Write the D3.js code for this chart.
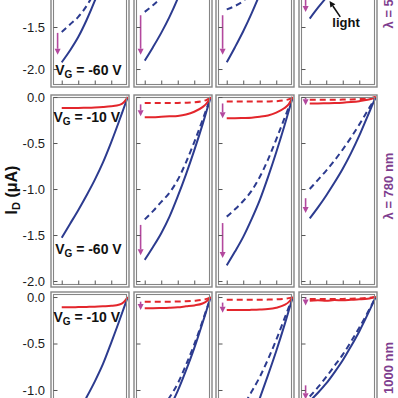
<!DOCTYPE html>
<html>
<head>
<meta charset="utf-8">
<script src="https://cdn.jsdelivr.net/npm/d3@7"></script>
<style>
  html, body { margin: 0; padding: 0; background: #fff; }
  svg { display: block; font-family: Arial, "Liberation Sans", sans-serif; }
</style>
</head>
<body>
<div id="chart"></div>
<script>

// drain voltage (V) points shared by every curve
let vd = [-8, -7, -6, -5, -4, -3, -2, -1, -0.5, 0];

let wavelengths = ['λ = 530 nm', 'λ = 780 nm', 'λ = 1000 nm'];
let yTicks = [0, -0.5, -1.0, -1.5, -2.0];
let xTicks = [-8, -6, -4, -2];

// I_D (uA) at VG = -60 V, one array per column (solid = light, dashed = dark)
let light60_530 = [
  [-1.92, -1.78, -1.62, -1.42, -1.19, -0.93, -0.64, -0.33, -0.165, 0],
  [-1.90, -1.74, -1.57, -1.38, -1.16, -0.90, -0.62, -0.32, -0.16, 0],
  [-1.92, -1.74, -1.55, -1.34, -1.11, -0.86, -0.59, -0.30, -0.15, 0],
  [-1.40, -1.27, -1.15, -1.02, -0.87, -0.69, -0.48, -0.25, -0.125, 0]
];
let dark60_530 = [
  [-1.56, -1.47, -1.38, -1.25, -1.08, -0.86, -0.59, -0.30, -0.15, 0],
  [-1.32, -1.24, -1.15, -1.04, -0.90, -0.71, -0.49, -0.25, -0.125, 0],
  [-1.29, -1.25, -1.19, -1.08, -0.93, -0.73, -0.50, -0.26, -0.13, 0],
  [-1.12, -1.02, -0.91, -0.79, -0.66, -0.52, -0.36, -0.18, -0.09, 0]
];

let light60_780 = [
  [-1.53, -1.38, -1.23, -1.07, -0.90, -0.71, -0.49, -0.25, -0.125, 0],
  [-1.77, -1.63, -1.48, -1.30, -1.08, -0.84, -0.58, -0.30, -0.15, 0],
  [-1.83, -1.68, -1.52, -1.33, -1.12, -0.87, -0.60, -0.31, -0.155, 0],
  [-1.32, -1.20, -1.07, -0.93, -0.78, -0.61, -0.42, -0.21, -0.105, 0]
];
let dark60_780 = [
  null,
  [-1.33, -1.24, -1.14, -1.04, -0.90, -0.71, -0.49, -0.25, -0.125, 0],
  [-1.30, -1.22, -1.13, -1.02, -0.87, -0.68, -0.46, -0.23, -0.115, 0],
  [-1.00, -0.90, -0.80, -0.69, -0.57, -0.44, -0.30, -0.15, -0.075, 0]
];

let light60_1000 = [
  [-1.55, -1.39, -1.24, -1.08, -0.91, -0.72, -0.49, -0.25, -0.125, 0],
  [-1.62, -1.48, -1.34, -1.19, -1.01, -0.79, -0.55, -0.28, -0.14, 0],
  [-1.85, -1.70, -1.53, -1.33, -1.09, -0.84, -0.58, -0.30, -0.15, 0],
  [-1.12, -1.03, -0.93, -0.81, -0.68, -0.53, -0.37, -0.19, -0.095, 0]
];
let dark60_1000 = [
  null,
  [-1.45, -1.33, -1.21, -1.08, -0.93, -0.73, -0.51, -0.26, -0.13, 0],
  [-1.38, -1.28, -1.17, -1.02, -0.86, -0.67, -0.46, -0.23, -0.115, 0],
  [-1.07, -0.97, -0.86, -0.74, -0.62, -0.48, -0.33, -0.17, -0.085, 0]
];

// I_D (uA) at VG = -10 V
let light10_780 = [
  [-0.12, -0.12, -0.118, -0.116, -0.113, -0.108, -0.10, -0.085, -0.06, 0],
  [-0.22, -0.22, -0.215, -0.21, -0.205, -0.19, -0.16, -0.11, -0.07, 0],
  [-0.23, -0.23, -0.228, -0.225, -0.215, -0.20, -0.17, -0.12, -0.08, 0],
  [-0.07, -0.07, -0.068, -0.066, -0.062, -0.055, -0.045, -0.03, -0.018, 0]
];
let dark10_780 = [
  null,
  [-0.065, -0.065, -0.065, -0.065, -0.064, -0.062, -0.058, -0.045, -0.03, 0],
  [-0.05, -0.05, -0.05, -0.05, -0.05, -0.048, -0.045, -0.035, -0.025, 0],
  [-0.03, -0.03, -0.03, -0.03, -0.028, -0.026, -0.022, -0.016, -0.01, 0]
];
let light10_1000 = [
  [-0.11, -0.11, -0.108, -0.106, -0.104, -0.10, -0.095, -0.08, -0.055, 0],
  [-0.12, -0.12, -0.118, -0.115, -0.11, -0.10, -0.09, -0.07, -0.045, 0],
  [-0.14, -0.14, -0.14, -0.138, -0.135, -0.13, -0.115, -0.085, -0.055, 0],
  [-0.04, -0.035, -0.04, -0.033, -0.035, -0.03, -0.025, -0.018, -0.01, 0]
];
let dark10_1000 = [
  null,
  [-0.05, -0.05, -0.05, -0.05, -0.048, -0.045, -0.04, -0.03, -0.02, 0],
  [-0.03, -0.03, -0.03, -0.03, -0.03, -0.028, -0.025, -0.018, -0.012, 0],
  [-0.02, -0.02, -0.022, -0.02, -0.02, -0.018, -0.015, -0.01, -0.006, 0]
];

// light-induced shift arrows: [row, col, VD, I from, I to]
let shiftArrows = [
  [0, 0, -8.5, -1.57, -1.83], [0, 1, -8.5, -1.36, -1.83], [0, 2, -8.5, -1.36, -1.83], [0, 3, -8.5, -1.10, -1.32],
  [1, 1, -8.5, -0.08, -0.21], [1, 2, -8.5, -0.07, -0.23], [1, 3, -8.5, -0.01, -0.09],
  [1, 1, -8.5, -1.39, -1.72], [1, 2, -8.5, -1.37, -1.75], [1, 3, -8.5, -1.10, -1.26],
  [2, 1, -8.5, -0.05, -0.14], [2, 2, -8.5, -0.06, -0.17], [2, 3, -8.5, -0.00, -0.09], [2, 3, -8.5, -0.95, -1.10]
];

// gate voltage labels: [row, VD, I, value]
let gateLabels = [[0, -8.8, -2.07, '-60'], [1, -9.0, -0.27, '-10'], [1, -8.8, -1.71, '-60'], [2, -9.0, -0.27, '-10']];

let rows = [
  { light60: light60_530, dark60: dark60_530, light10: null, dark10: null },
  { light60: light60_780, dark60: dark60_780, light10: light10_780, dark10: dark10_780 },
  { light60: light60_1000, dark60: dark60_1000, light10: light10_1000, dark10: dark10_1000 }
];

// layout
let W = 398, H = 398;
let panelW = 78, panelH = 192;
let colLeft = [51, 134, 216, 299];
let rowTop = [-105, 95, 292];
let rowDomain = [[-2.214, 0.071], [-2.065, 0.022], [-2.011, 0.054]];
let labelCenter = [-5, 186, 379];

let blue = '#2c3b8f', red = '#e3262c', magenta = '#b3489e', purple = '#7e3d8e', frame = '#858585';

let svg = d3.select('#chart').append('svg')
  .attr('width', W)
  .attr('height', H);

let defs = svg.append('defs');

function xScale(c) {
  return d3.scaleLinear().domain([-9.3, 0.15]).range([colLeft[c], colLeft[c] + panelW]);
}
function yScale(r) {
  return d3.scaleLinear().domain(rowDomain[r]).range([rowTop[r] + panelH, rowTop[r]]);
}

function drawArrow(g, x1, y1, x2, y2, color, head) {
  let ang = Math.atan2(y2 - y1, x2 - x1);
  let bx = x2 - head * Math.cos(ang), by = y2 - head * Math.sin(ang);
  g.append('line')
    .attr('x1', x1).attr('y1', y1).attr('x2', bx).attr('y2', by)
    .attr('stroke', color).attr('stroke-width', 1.6);
  let px = Math.sin(ang) * head * 0.5, py = -Math.cos(ang) * head * 0.5;
  g.append('path')
    .attr('d', 'M' + x2 + ',' + y2 + 'L' + (bx + px) + ',' + (by + py) + 'L' + (bx - px) + ',' + (by - py) + 'Z')
    .attr('fill', color);
}

rows.forEach(function (row, r) {
  let y = yScale(r);
  for (let c = 0; c < 4; c++) {
    let x = xScale(c);
    let left = colLeft[c], top = rowTop[r];

    let clipId = 'clip' + r + c;
    defs.append('clipPath').attr('id', clipId)
      .append('rect')
      .attr('x', left + 1).attr('y', Math.max(top + 1, 0))
      .attr('width', panelW - 2).attr('height', top + panelH - 1 - Math.max(top + 1, 0));

    let g = svg.append('g').attr('clip-path', 'url(#' + clipId + ')');

    let line = d3.line()
      .x(function (d, i) { return x(vd[i]); })
      .y(function (d) { return y(d); })
      .curve(d3.curveMonotoneX);

    let series = [
      [row.light60, blue, null],
      [row.dark60, blue, '6,4'],
      [row.light10, red, null],
      [row.dark10, red, '6,4']
    ];
    series.forEach(function (s) {
      if (!s[0] || !s[0][c]) return;
      g.append('path')
        .attr('d', line(s[0][c]))
        .attr('fill', 'none')
        .attr('stroke', s[1])
        .attr('stroke-width', 2)
        .attr('stroke-dasharray', s[2]);
    });

    shiftArrows.filter(function (a) { return a[0] === r && a[1] === c; }).forEach(function (a) {
      drawArrow(g, x(a[2]), y(a[3]), x(a[2]), y(a[4]), magenta, 6);
    });

    // double frame
    svg.append('rect')
      .attr('x', left).attr('y', top).attr('width', panelW).attr('height', panelH)
      .attr('fill', 'none').attr('stroke', frame).attr('stroke-width', 1.4);
    svg.append('rect')
      .attr('x', left + 2.5).attr('y', top + 2.5).attr('width', panelW - 5).attr('height', panelH - 5)
      .attr('fill', 'none').attr('stroke', frame).attr('stroke-width', 1.1);

    // inward ticks
    let ya = svg.append('g')
      .attr('transform', 'translate(' + (left + 2.5) + ',0)')
      .call(d3.axisLeft(y).tickValues(yTicks).tickSize(-4).tickSizeOuter(0).tickFormat(''));
    ya.select('.domain').remove();
    ya.selectAll('line').attr('stroke', '#555');

    let xa = svg.append('g')
      .attr('transform', 'translate(0,' + (top + panelH - 2.5) + ')')
      .call(d3.axisBottom(x).tickValues(xTicks).tickSize(-4).tickSizeOuter(0).tickFormat(''));
    xa.select('.domain').remove();
    xa.selectAll('line').attr('stroke', '#555');

    if (c === 0) {
      // only the labels that fall inside the page
      let shown = yTicks.filter(function (t) { return y(t) > 6 && y(t) < H; });
      let yl = svg.append('g')
        .attr('transform', 'translate(' + left + ',0)')
        .call(d3.axisLeft(y).tickValues(shown).tickSize(0).tickPadding(6)
          .tickFormat(function (d) { return d.toFixed(1); }));
      yl.select('.domain').remove();
      yl.selectAll('text')
        .attr('font-size', 13)
        .attr('font-family', 'Arial, "Liberation Sans", sans-serif')
        .attr('fill', '#1a1a1a');
    }
  }

  // wavelength label on the right
  svg.append('text')
    .attr('transform', 'translate(393,' + labelCenter[r] + ') rotate(-90)')
    .attr('text-anchor', 'middle')
    .attr('font-size', 13)
    .attr('font-weight', 'bold')
    .attr('fill', purple)
    .text(wavelengths[r]);
});

// gate voltage labels
gateLabels.forEach(function (gl) {
  let x = xScale(0), y = yScale(gl[0]);
  let t = svg.append('text')
    .attr('x', x(gl[1])).attr('y', y(gl[2]))
    .attr('font-size', 14).attr('font-weight', 'bold').attr('fill', '#111');
  t.append('tspan').text('V');
  t.append('tspan').attr('font-size', 10).attr('dy', 3).text('G');
  t.append('tspan').attr('dy', -3).text(' = ' + gl[3] + ' V');
});

// "light" annotation in the top-right panel
{
  let x = xScale(3), y = yScale(0);
  drawArrow(svg, x(-4.3), y(-1.38), x(-5.6), y(-1.19), '#111', 6);
  svg.append('text')
    .attr('x', x(-3.6)).attr('y', y(-1.5))
    .attr('text-anchor', 'middle')
    .attr('font-size', 13).attr('font-weight', 'bold').attr('fill', '#111')
    .text('light');
}

// y axis title
let yt = svg.append('text')
  .attr('transform', 'translate(17,190) rotate(-90)')
  .attr('text-anchor', 'middle')
  .attr('font-size', 16)
  .attr('font-weight', 'bold')
  .attr('fill', '#111');
yt.append('tspan').text('I');
yt.append('tspan').attr('font-size', 11).attr('dy', 3).text('D');
yt.append('tspan').attr('dy', -3).text(' (μA)');

</script>
</body>
</html>
